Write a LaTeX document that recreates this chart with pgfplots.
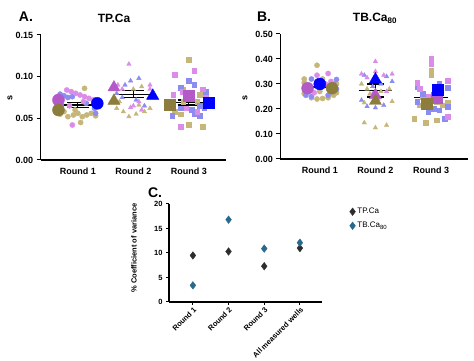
\documentclass[border=0pt]{standalone}
\usepackage{pgfplots}
\pgfplotsset{compat=1.18}
\usepackage{fontspec}
\setmainfont{Liberation Sans}
\definecolor{pinkc}{RGB}{218,140,232}
\definecolor{bluec}{RGB}{140,140,240}
\definecolor{khakic}{RGB}{198,182,122}
\definecolor{purpbig}{RGB}{180,90,200}
\definecolor{olivebig}{RGB}{140,125,60}
\definecolor{bluebig}{RGB}{0,0,255}
\definecolor{tpc}{RGB}{45,45,45}
\definecolor{tbc}{RGB}{40,105,140}
\pgfplotsset{
  panel/.style={
    scale only axis, axis lines=left, axis line style={line width=1.3pt,-},
    every tick/.style={black,line width=1pt},
    major tick length=4pt, tick align=outside,
    tick label style={font=\bfseries\fontsize{9}{10}\selectfont},
    /pgf/number format/assume math mode=true,
    clip=false,
  },
  sm/.style={only marks, mark size=2.6pt, draw=none},
  bg/.style={only marks, mark size=6pt, draw=none},
  mline/.style={black, line width=1.1pt, no marks},
}
\begin{document}
\begin{tikzpicture}[x=1pt,y=1pt]
\useasboundingbox (0,0) rectangle (474,361);
% ---------------- Panel A ----------------
\begin{axis}[panel, at={(40.7pt,201pt)}, anchor=south west,
  width=185.3pt, height=125pt, xmin=0.33, xmax=3.67, ymin=0, ymax=0.15,
  ytick={0,0.05,0.10,0.15}, yticklabel style={/pgf/number format/.cd,fixed,fixed zerofill,precision=2},
  xtick={1,2,3}, xticklabels={Round 1,Round 2,Round 3}, xtick style={draw=none}]
% Round 1 circles
\addplot[sm, mark=*, color=khakic] coordinates {(0.68,0.055)(0.75,0.058)(0.82,0.052)(0.92,0.054)(1.00,0.056)(1.08,0.052)(1.16,0.054)(1.24,0.056)(1.32,0.053)(1.12,0.086)(1.05,0.045)(0.95,0.060)(1.30,0.072)(0.70,0.062)};
\addplot[sm, mark=*, color=bluec] coordinates {(0.68,0.079)(0.75,0.077)(0.82,0.075)(0.90,0.076)(1.30,0.062)(1.32,0.056)(0.70,0.066)(1.15,0.068)};
\addplot[sm, mark=*, color=pinkc] coordinates {(0.80,0.084)(0.88,0.082)(0.96,0.080)(1.04,0.078)(1.12,0.076)(1.20,0.074)(1.28,0.072)(0.85,0.065)(0.90,0.042)(1.10,0.070)};
% Round 2 triangles
\addplot[sm, mark=triangle*, color=khakic] coordinates {(1.70,0.062)(1.82,0.058)(1.92,0.052)(2.05,0.055)(2.20,0.058)(2.30,0.062)(2.00,0.085)(2.15,0.088)(1.75,0.070)(2.10,0.066)};
\addplot[sm, mark=triangle*, color=bluec] coordinates {(1.85,0.090)(1.95,0.095)(2.10,0.098)(2.28,0.075)(1.80,0.075)(2.05,0.072)(2.20,0.065)(1.70,0.080)};
\addplot[sm, mark=triangle*, color=pinkc] coordinates {(1.92,0.115)(1.72,0.090)(1.80,0.085)(2.30,0.090)(2.30,0.085)(2.10,0.070)(2.00,0.065)(1.95,0.063)(2.15,0.060)};
% Round 3 squares
\addplot[sm, mark=square*, mark size=2.3pt, color=khakic] coordinates {(3.00,0.120)(2.90,0.085)(2.75,0.058)(2.85,0.055)(3.00,0.042)(3.25,0.040)(3.15,0.070)(3.00,0.078)(3.20,0.078)(2.90,0.070)};
\addplot[sm, mark=square*, mark size=2.3pt, color=bluec] coordinates {(3.00,0.095)(3.10,0.090)(2.85,0.087)(3.20,0.065)(3.30,0.082)(2.70,0.053)(3.20,0.053)(3.05,0.060)(2.85,0.062)(3.28,0.063)(3.10,0.055)};
\addplot[sm, mark=square*, mark size=2.3pt, color=pinkc] coordinates {(2.75,0.102)(2.88,0.082)(3.10,0.107)(3.25,0.085)(2.72,0.078)(2.72,0.070)(2.85,0.040)(3.15,0.058)(3.30,0.075)(2.95,0.062)};
% mean and SEM
\addplot[mline] coordinates {(0.70,0.066)(1.30,0.066)};
\addplot[mline] coordinates {(0.80,0.063)(1.20,0.063)};
\addplot[mline] coordinates {(0.80,0.069)(1.20,0.069)};
\addplot[mline] coordinates {(1,0.063)(1,0.069)};
\addplot[mline] coordinates {(1.70,0.079)(2.30,0.079)};
\addplot[mline] coordinates {(1.80,0.075)(2.20,0.075)};
\addplot[mline] coordinates {(1.80,0.083)(2.20,0.083)};
\addplot[mline] coordinates {(2,0.075)(2,0.083)};
\addplot[mline] coordinates {(2.70,0.069)(3.30,0.069)};
\addplot[mline] coordinates {(2.80,0.066)(3.20,0.066)};
\addplot[mline] coordinates {(2.80,0.072)(3.20,0.072)};
\addplot[mline] coordinates {(3,0.066)(3,0.072)};
% big markers
\addplot[bg, mark=*, color=purpbig] coordinates {(0.65,0.072)};
\addplot[bg, mark=*, color=olivebig] coordinates {(0.65,0.060)};
\addplot[bg, mark=*, color=bluebig] coordinates {(1.35,0.068)};
\addplot[bg, mark=triangle*, mark size=7pt, color=purpbig] coordinates {(1.65,0.087)};
\addplot[bg, mark=triangle*, mark size=7pt, color=olivebig] coordinates {(1.65,0.071)};
\addplot[bg, mark=triangle*, mark size=7pt, color=bluebig] coordinates {(2.35,0.077)};
\addplot[bg, mark=square*, mark size=5.5pt, color=purpbig] coordinates {(3.00,0.077)};
\addplot[bg, mark=square*, mark size=5.5pt, color=olivebig] coordinates {(2.65,0.066)};
\addplot[bg, mark=square*, mark size=5.5pt, color=bluebig] coordinates {(3.35,0.069)};
\end{axis}
% ---------------- Panel B ----------------
\begin{axis}[panel, at={(280.3pt,202pt)}, anchor=south west,
  width=188pt, height=125pt, xmin=0.29, xmax=3.67, ymin=0, ymax=0.5,
  ytick={0,0.1,0.2,0.3,0.4,0.5}, yticklabel style={/pgf/number format/.cd,fixed,fixed zerofill,precision=2},
  xtick={1,2,3}, xticklabels={Round 1,Round 2,Round 3}, xtick style={draw=none}]
\addplot[sm, mark=*, color=khakic] coordinates {(0.95,0.375)(0.72,0.320)(0.72,0.305)(1.25,0.290)(1.30,0.265)(0.72,0.262)(0.85,0.245)(0.95,0.240)(1.05,0.242)(1.15,0.245)(1.25,0.255)(1.05,0.320)(1.30,0.300)(1.00,0.270)};
\addplot[sm, mark=*, color=bluec] coordinates {(0.85,0.320)(0.95,0.310)(1.30,0.318)(1.25,0.300)(0.75,0.255)(0.85,0.250)(1.15,0.255)(1.30,0.280)};
\addplot[sm, mark=*, color=pinkc] coordinates {(0.95,0.335)(1.15,0.342)(0.80,0.290)(0.75,0.275)(1.10,0.300)(0.90,0.265)(1.20,0.310)(1.05,0.290)};
\addplot[sm, mark=triangle*, color=khakic] coordinates {(1.75,0.300)(1.85,0.280)(1.80,0.225)(2.30,0.230)(1.80,0.145)(2.00,0.125)(2.20,0.135)(2.10,0.270)(2.25,0.280)(1.90,0.260)};
\addplot[sm, mark=triangle*, color=bluec] coordinates {(1.80,0.335)(2.20,0.330)(2.30,0.310)(1.75,0.235)(1.85,0.210)(2.00,0.205)(2.15,0.215)(2.10,0.300)(1.95,0.290)};
\addplot[sm, mark=triangle*, color=pinkc] coordinates {(2.00,0.390)(1.75,0.340)(2.00,0.350)(2.15,0.335)(2.30,0.340)(1.85,0.325)(2.20,0.270)(2.05,0.240)(1.95,0.260)};
\addplot[sm, mark=square*, mark size=2.3pt, color=khakic] coordinates {(3.00,0.355)(3.00,0.335)(2.70,0.160)(2.90,0.145)(3.10,0.155)(2.80,0.215)(2.90,0.225)(3.20,0.215)(3.30,0.225)(3.10,0.230)(2.85,0.250)};
\addplot[sm, mark=square*, mark size=2.3pt, color=bluec] coordinates {(2.75,0.290)(3.15,0.300)(3.30,0.285)(2.85,0.260)(2.75,0.230)(3.05,0.200)(3.15,0.195)(3.30,0.210)(3.25,0.160)(2.95,0.190)};
\addplot[sm, mark=square*, mark size=2.3pt, color=pinkc] coordinates {(3.00,0.400)(3.00,0.380)(2.75,0.305)(3.30,0.312)(3.30,0.170)(2.95,0.250)(3.15,0.260)(3.10,0.240)(2.80,0.280)};
% mean and SEM
\addplot[mline] coordinates {(0.70,0.288)(1.30,0.288)};
\addplot[mline] coordinates {(1,0.284)(1,0.292)};
\addplot[mline] coordinates {(1.70,0.273)(2.30,0.273)};
\addplot[mline] coordinates {(1.85,0.248)(2.15,0.248)};
\addplot[mline] coordinates {(1.85,0.300)(2.15,0.300)};
\addplot[mline] coordinates {(2,0.248)(2,0.300)};
\addplot[mline] coordinates {(2.70,0.247)(3.30,0.247)};
\addplot[mline] coordinates {(2.88,0.236)(3.12,0.236)};
\addplot[mline] coordinates {(2.88,0.258)(3.12,0.258)};
\addplot[mline] coordinates {(3,0.236)(3,0.258)};
% big markers
\addplot[bg, mark=*, color=purpbig] coordinates {(0.78,0.283)};
\addplot[bg, mark=*, color=olivebig] coordinates {(1.22,0.283)};
\addplot[bg, mark=*, color=bluebig] coordinates {(1.00,0.300)};
\addplot[bg, mark=triangle*, mark size=7pt, color=purpbig] coordinates {(2.00,0.255)};
\addplot[bg, mark=triangle*, mark size=7pt, color=olivebig] coordinates {(2.00,0.232)};
\addplot[bg, mark=triangle*, mark size=7pt, color=bluebig] coordinates {(2.00,0.318)};
\addplot[bg, mark=square*, mark size=5.5pt, color=purpbig] coordinates {(3.10,0.245)};
\addplot[bg, mark=square*, mark size=5.5pt, color=olivebig] coordinates {(2.92,0.222)};
\addplot[bg, mark=square*, mark size=5.5pt, color=bluebig] coordinates {(3.12,0.278)};
\end{axis}
% ---------------- Panel C ----------------
\begin{axis}[panel, at={(169pt,59pt)}, anchor=south west,
  width=153pt, height=98pt, xmin=0.33, xmax=4.62, ymin=0, ymax=20,
  ytick={0,5,10,15,20}, major tick length=3pt,
  tick label style={font=\bfseries\fontsize{7.5}{8.5}\selectfont},
  xtick={1,2,3,4}, xticklabels={Round 1,Round 2,Round 3,All measured wells},
  xticklabel style={rotate=45, anchor=north east, inner sep=1pt},
  legend style={at={(1.18,0.98)}, anchor=north west, draw=none, fill=none,
    font=\fontsize{8}{9}\selectfont, row sep=3pt, inner sep=0pt},
  legend cell align=left]
\addplot[only marks, mark=diamond*, mark size=3.8pt, color=tpc] coordinates {(1,9.5)(2,10.3)(3,7.3)(4,11.0)};
\addlegendentry{TP.Ca}
\addplot[only marks, mark=diamond*, mark size=3.8pt, color=tbc] coordinates {(1,3.4)(2,16.8)(3,10.9)(4,12.1)};
\addlegendentry{TB.Ca\textsubscript{80}}
\end{axis}
% ---------------- texts ----------------
\node[font=\bfseries\fontsize{14}{16}\selectfont] at (26,344) {A.};
\node[font=\bfseries\fontsize{12}{14}\selectfont] at (114,343) {TP.Ca};
\node[font=\bfseries\fontsize{14}{16}\selectfont] at (264,344) {B.};
\node[font=\bfseries\fontsize{12}{14}\selectfont] at (375,343) {TB.Ca\textsubscript{80}};
\node[font=\bfseries\fontsize{14}{16}\selectfont] at (155,168) {C.};
\node[font=\bfseries\fontsize{9}{10}\selectfont, rotate=90] at (10,263) {s};
\node[font=\bfseries\fontsize{9}{10}\selectfont, rotate=90] at (245,263) {s};
\node[font=\bfseries\fontsize{7.5}{8.5}\selectfont, rotate=90] at (134,113) {\% Coefficient of variance};
\end{tikzpicture}
\end{document}
